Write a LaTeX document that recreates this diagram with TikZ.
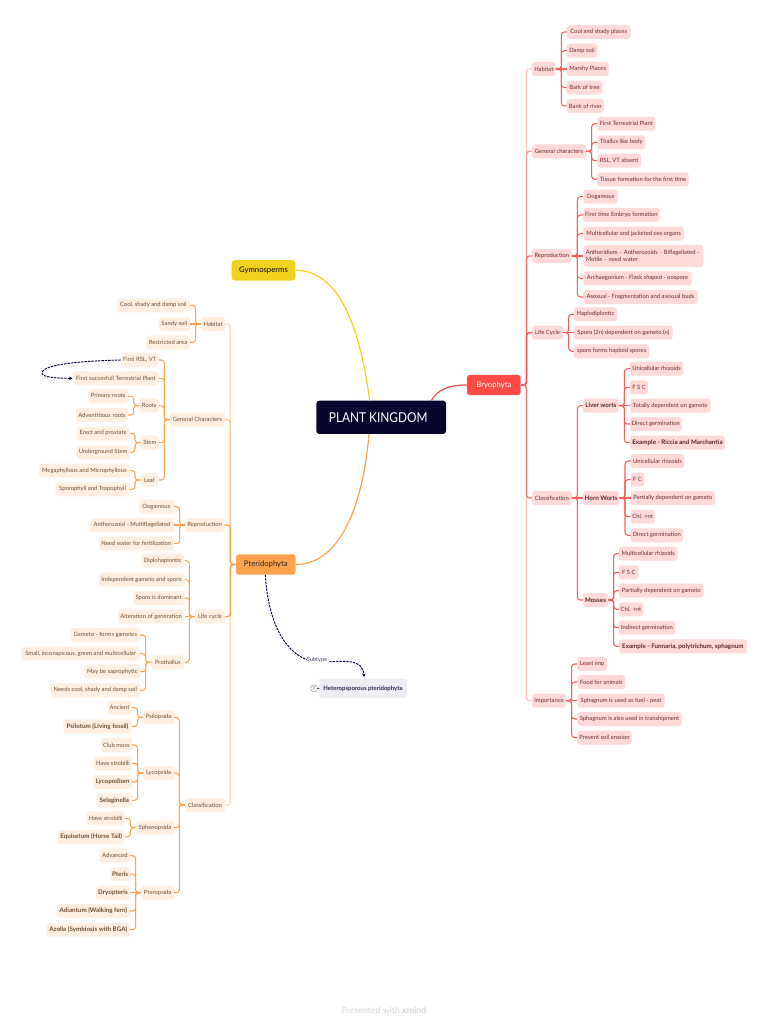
\documentclass[tikz,border=0pt]{standalone}
\usepackage{fontspec}
\setmainfont{Lato}
\usetikzlibrary{arrows.meta}
\definecolor{rfill}{HTML}{FFDAD8}\definecolor{rtext}{HTML}{6E2A2A}\definecolor{rline}{HTML}{FF5A54}
\definecolor{lfill}{HTML}{FFEFE1}\definecolor{ltext}{HTML}{6E4E30}\definecolor{lline}{HTML}{FFA24D}
\definecolor{ra}{HTML}{FFC6C3}\definecolor{rbb}{HTML}{FF9A96}\definecolor{rc}{HTML}{FF716B}\definecolor{rd}{HTML}{FF4B45}
\definecolor{la}{HTML}{FFDCBE}\definecolor{lb}{HTML}{FFC48F}\definecolor{lc}{HTML}{FFA24D}
\definecolor{navy}{HTML}{05052E}\definecolor{gymn}{HTML}{F2D21E}\definecolor{hetfill}{HTML}{EEEDF2}
\tikzset{
 base/.style={rectangle,rounded corners=3pt,inner sep=0pt,minimum height=14pt,font=\fontsize{5.85}{7.4}\selectfont},
 rn/.style={base,fill=rfill,text=rtext},
 rbd/.style={rn,font=\fontsize{6.25}{7.7}\selectfont\bfseries,text=rtext!85!black},
 ln/.style={base,fill=lfill,text=ltext},
 lbd/.style={ln,font=\fontsize{6.25}{7.7}\selectfont\bfseries},
 major/.style={rectangle,rounded corners=3pt,inner sep=0pt,minimum height=20.4pt,font=\fontsize{7.7}{10}\selectfont},
 rbranch/.style={draw=rline,line width=1.05pt,rounded corners=3pt},
 lbranch/.style={draw=lline,line width=1.05pt,rounded corners=3pt},
 spine/.style={line width=1.3pt,rounded corners=3pt},
 rel/.style={draw=navy!90!blue,line width=0.95pt,dash pattern=on 2.4pt off 1pt},
}
\newcommand\bxx[6]{%
 \pgfmathsetmacro\bxc{(#3+#4)/2}\pgfmathsetmacro\bxw{#4-#3}%
 \node[#1,minimum width=\bxw pt] (#2) at (\bxc,#5) {#6};}
\newcommand\rk[2]{\path[rbranch] (#1.east) -- ++(5.5,0) |- (#2.west);}
\newcommand\rs[2]{\path[rbranch] (#1.east) -- (#2.west);}
\newcommand\lk[2]{\path[lbranch] (#1.west) -- ++(-5.5,0) |- (#2.east);}
\newcommand\ls[2]{\path[lbranch] (#1.west) -- (#2.east);}
\newcommand\rsp[3]{\draw[spine,#1] (#2.east) -- ++(5.5,0) |- (#3.west);}
\newcommand\lsp[3]{\draw[spine,#1] (#2.west) -- ++(-5.5,0) |- (#3.east);}
\begin{document}
\begin{tikzpicture}[x=1pt,y=-1pt]
\useasboundingbox (0,0) rectangle (768,1024);
% centre and main topics
\node[rectangle,rounded corners=3pt,fill=navy,text=white,minimum width=129.7pt,minimum height=33.3pt,inner sep=0pt,font=\fontsize{13.6}{16}\selectfont] (root) at (381.2,417.3) {\hspace{-6pt}\scalebox{0.87}[1]{PLANT KINGDOM}};
\bxx{major,fill=rd,text=white}{bry}{467}{520.7}{385}{Bryophyta}
\bxx{major,fill=gymn,text=black}{gym}{231.7}{295.3}{270.3}{Gymnosperms}
\bxx{major,fill=lc,text=black!85}{pte}{236}{295.7}{564.5}{Pteridophyta}
% Bryophyta
\bxx{rn}{bhab}{532}{555.7}{69}{Habitat}
\bxx{rn}{b1}{566.7}{630.7}{32}{Cool and shady places}
\bxx{rn}{b2}{566.7}{597.3}{50.7}{Damp soil}
\bxx{rn}{b3}{566.7}{608.7}{69}{Marshy Places}
\bxx{rn}{b4}{566.7}{602.3}{87.7}{Bark of tree}
\bxx{rn}{b5}{566.7}{604}{106}{Bank of river}
\bxx{rn}{bgen}{532}{586}{151.3}{General characters}
\bxx{rn}{g1}{597.3}{655.3}{123.7}{First Terrestrial Plant}
\bxx{rn}{g2}{597.3}{645.3}{142.3}{Thallus like body}
\bxx{rn}{g3}{597.3}{641}{160.7}{RSL, VT absent}
\bxx{rn}{g4}{597.3}{688.7}{179.3}{Tissue formation for the first time}
\bxx{rn}{brep}{532}{571.7}{256}{Reproduction}
\bxx{rn}{p1}{583.3}{617.7}{196.7}{Oogamous}
\bxx{rn}{p2}{583.3}{659.3}{215}{First time Embryo formation}
\bxx{rn}{p3}{583.3}{684}{233.7}{Multicellular and jacketed sex organs}
\bxx{rn,minimum height=22.3pt,align=left,text width=115pt}{p4}{583.3}{703.3}{256}{\mbox{Antheridium - Antherozoids - Biflagellated -}\\Motile - need water}
\bxx{rn}{p5}{583.3}{691.7}{278.3}{Archaegonium - Flask shaped - oospore}
\bxx{rn}{p6}{583.3}{697.7}{297}{Asexual - Fragmentation and asexual buds}
\bxx{rn}{blif}{532}{563}{332.7}{Life Cycle}
\bxx{rn}{c1}{574}{617}{314.3}{Haplodiplontic}
\bxx{rn}{c2}{574}{672.7}{332.7}{Sporo (2n) dependent on gameto (n)}
\bxx{rn}{c3}{574}{649.3}{351.3}{sporo forms haploid spores}
\bxx{rn}{bcla}{532}{571.7}{498}{Classification}
\bxx{rbd}{liv}{583}{618.7}{405.7}{Liver worts}
\bxx{rn}{v1}{630}{683.3}{368.7}{Unicellular rhizoids}
\bxx{rn}{v2}{630}{648}{387.3}{F S C}
\bxx{rn}{v3}{630}{710.7}{405.7}{Totally dependent on gameto}
\bxx{rn}{v4}{630}{681.7}{424}{Direct germination}
\bxx{rbd}{v5}{630}{725}{442.7}{Example - Riccia and Marchantia}
\bxx{rbd}{hor}{583}{619.3}{498}{Horn Worts}
\bxx{rn}{h1}{630.7}{684.3}{461}{Unicellular rhizoids}
\bxx{rn}{h2}{630.7}{644.3}{479.7}{F C}
\bxx{rn}{h3}{630.7}{715}{498}{Partially dependent on gameto}
\bxx{rn}{h4}{630.7}{654.7}{516.7}{Chl. +nt}
\bxx{rn}{h5}{630.7}{683}{535.3}{Direct germination}
\bxx{rbd}{mos}{583}{608}{600}{Mosses}
\bxx{rn}{m1}{619}{677.7}{553.7}{Multicellular rhizoids}
\bxx{rn}{m2}{619}{638.7}{572.3}{F S C}
\bxx{rn}{m3}{619}{703.7}{590.7}{Partially dependent on gameto}
\bxx{rn}{m4}{619}{643}{609.3}{Chl. +nt}
\bxx{rn}{m5}{619}{675}{627.7}{Indirect germination}
\bxx{rbd}{m6}{619}{746.7}{646.3}{Example - Funnaria, polytrichum, sphagnum}
\bxx{rn}{bimp}{532}{566}{700.7}{Importance}
\bxx{rn}{i1}{577.3}{607}{664}{Least imp}
\bxx{rn}{i2}{577.3}{625.3}{682}{Food for animals}
\bxx{rn}{i3}{577.3}{664.7}{700.7}{Sphagnum is used as fuel - peat}
\bxx{rn}{i4}{577.3}{681.7}{719}{Sphagnum is also used in transhipment}
\bxx{rn}{i5}{577.3}{631.7}{737.7}{Prevent soil erosion}
% Pteridophyta
\bxx{ln}{lhab}{201.3}{225}{324}{Habitat}
\bxx{ln}{a1}{116.7}{190}{305.3}{Cool, shady and damp soil}
\bxx{ln}{a2}{158.7}{190}{324}{Sandy soil}
\bxx{ln}{a3}{146}{190}{342.3}{Restricted area}
\bxx{ln}{lgen}{170}{225}{419.7}{General Characters}
\bxx{ln}{r1}{121}{158.3}{360}{First RSL, VT}
\bxx{ln}{r2}{72.7}{159}{378.3}{First succesfull Terrestrial Plant}
\bxx{ln}{roo}{139.3}{159}{405.7}{Roots}
\bxx{ln}{r3}{88.3}{128}{396.3}{Primary roots}
\bxx{ln}{r4}{76}{128}{415}{Adventitious roots}
\bxx{ln}{ste}{140.7}{159}{442.7}{Stem}
\bxx{ln}{s1}{76.7}{129.7}{433.3}{Erect and prostate}
\bxx{ln}{s2}{76.7}{129.7}{452.3}{Underground Stem}
\bxx{ln}{lea}{140.7}{158.3}{480}{Leaf}
\bxx{ln}{e1}{39}{129.7}{470.7}{Megaphyllous and Microphyllous}
\bxx{ln}{e2}{55.3}{129.7}{489.3}{Sporophyll and Tropophyll}
\bxx{ln}{lrep}{185.3}{224}{525}{Reproduction}
\bxx{ln}{t1}{139}{173.7}{506.7}{Oogamous}
\bxx{ln}{t2}{90.3}{173.7}{525}{Antherozoid - Multiflagellated}
\bxx{ln}{t3}{99}{173.7}{543.7}{Need water for fertilization}
\bxx{ln}{llif}{195}{225}{616.7}{Life cycle}
\bxx{ln}{y1}{141.3}{184.3}{560.7}{Diplohaplontic}
\bxx{ln}{y2}{98.7}{184.3}{579.7}{Independent gameto and sporo}
\bxx{ln}{y3}{133}{184.3}{598}{Sporo is dominant}
\bxx{ln}{y4}{118}{184.3}{616.7}{Alteration of generation}
\bxx{ln}{pro}{151.3}{184.3}{662.3}{Prothallus}
\bxx{ln}{o1}{70.7}{140}{635}{Gameto - forms gametes}
\bxx{ln}{o2}{21.3}{140}{653.7}{Small, inconspicous, green and multicellular}
\bxx{ln}{o3}{84.7}{140}{671.7}{May be saprophytic}
\bxx{ln}{o4}{50.7}{140}{690.3}{Needs cool, shady and damp soil}
\bxx{ln}{lcla}{185}{225}{805}{Classification}
\bxx{ln}{psi}{143.3}{174}{717.3}{Psilopsida}
\bxx{ln}{q1}{107.3}{131.7}{707.7}{Ancient}
\bxx{lbd}{q2}{63.3}{131.7}{726.3}{Psilotum (Living fossil)}
\bxx{ln}{lyc}{143.3}{174}{773}{Lycopsida}
\bxx{ln}{w1}{100.7}{132}{745}{Club moss}
\bxx{ln}{w2}{94}{132}{763.3}{Have strobilli}
\bxx{lbd}{w3}{93.3}{132}{782}{Lycopodiom}
\bxx{lbd}{w4}{96.7}{132}{800.3}{Selaginella}
\bxx{ln}{sph}{136}{174}{827.7}{Sphenopsida}
\bxx{ln}{x1}{86.7}{124.7}{818.3}{Have strobilli}
\bxx{lbd}{x2}{57.7}{124.7}{837}{Equisetum (Horse Tail)}
\bxx{ln}{ptr}{141.3}{174}{892.7}{Pteropsida}
\bxx{ln}{z1}{99.7}{130}{855.7}{Advanced}
\bxx{lbd}{z2}{110.3}{130}{874}{Pteris}
\bxx{lbd}{z3}{96}{130}{892.7}{Dryopteris}
\bxx{lbd}{z4}{56.7}{130}{911}{Adiantum (Walking fern)}
\bxx{lbd}{z5}{46.7}{130}{929.7}{Azolla (Symbiosis with BGA)}
% floating topic
\node[rectangle,rounded corners=3pt,fill=hetfill,text=navy!85,minimum width=88pt,minimum height=19.4pt,inner sep=0pt,font=\fontsize{6}{7.7}\selectfont\bfseries] (het) at (363,688.3) {Heteropsporous pteridophyta};
\node[circle,draw=navy!80,densely dotted,line width=0.6pt,minimum size=7pt,inner sep=0pt,font=\fontsize{5}{5}\selectfont,text=navy!80] (ico) at (314,688.3) {?};
\draw[navy!80,line width=0.6pt] (ico) -- (het);
\node[inner sep=0pt,text=navy!80,font=\fontsize{5.6}{6}\selectfont] (sub) at (317,659.8) {Subtype};
% main curves
\coordinate (cg) at (369.7,401);
\coordinate (cb) at (431,401);
\coordinate (cp) at (369,434);
\draw[gymn,line width=1.2pt] (gym.east) .. controls (342,270.3) and (361,335) .. (cg);
\draw[rd,line width=1.2pt] (bry.west) .. controls (448,385) and (437,390) .. (cb);
\draw[lc,line width=1.2pt] (pte.east) .. controls (336,564.5) and (362,515) .. (cp);
% Bryophyta spine
\rsp{ra}{bry}{bhab}\rsp{ra}{bry}{bimp}\rsp{rbb}{bry}{bgen}\rsp{rc}{bry}{bcla}\rsp{rc}{bry}{brep}\rsp{rd}{bry}{blif}
\rk{bhab}{b1}\rk{bhab}{b2}\rs{bhab}{b3}\rk{bhab}{b4}\rk{bhab}{b5}
\rk{bgen}{g1}\rk{bgen}{g2}\rk{bgen}{g3}\rk{bgen}{g4}
\rk{brep}{p1}\rk{brep}{p2}\rk{brep}{p3}\rs{brep}{p4}\rk{brep}{p5}\rk{brep}{p6}
\rk{blif}{c1}\rs{blif}{c2}\rk{blif}{c3}
\rk{bcla}{liv}\rs{bcla}{hor}\rk{bcla}{mos}
\rk{liv}{v1}\rk{liv}{v2}\rs{liv}{v3}\rk{liv}{v4}\rk{liv}{v5}
\rk{hor}{h1}\rk{hor}{h2}\rs{hor}{h3}\rk{hor}{h4}\rk{hor}{h5}
\rk{mos}{m1}\rk{mos}{m2}\rk{mos}{m3}\rk{mos}{m4}\rk{mos}{m5}\rk{mos}{m6}
\rk{bimp}{i1}\rk{bimp}{i2}\rs{bimp}{i3}\rk{bimp}{i4}\rk{bimp}{i5}
% Pteridophyta spine
\lsp{la}{pte}{lhab}\lsp{la}{pte}{lcla}\lsp{lb}{pte}{lgen}\lsp{lc}{pte}{lrep}\lsp{lc}{pte}{llif}
\lk{lhab}{a1}\ls{lhab}{a2}\lk{lhab}{a3}
\lk{lgen}{r1}\lk{lgen}{r2}\lk{lgen}{roo}\lk{lgen}{ste}\lk{lgen}{lea}
\lk{roo}{r3}\lk{roo}{r4}\lk{ste}{s1}\lk{ste}{s2}\lk{lea}{e1}\lk{lea}{e2}
\lk{lrep}{t1}\ls{lrep}{t2}\lk{lrep}{t3}
\lk{llif}{y1}\lk{llif}{y2}\lk{llif}{y3}\ls{llif}{y4}\lk{llif}{pro}
\lk{pro}{o1}\lk{pro}{o2}\lk{pro}{o3}\lk{pro}{o4}
\lk{lcla}{psi}\lk{lcla}{lyc}\lk{lcla}{sph}\lk{lcla}{ptr}
\lk{psi}{q1}\lk{psi}{q2}
\lk{lyc}{w1}\lk{lyc}{w2}\lk{lyc}{w3}\lk{lyc}{w4}
\lk{sph}{x1}\lk{sph}{x2}
\lk{ptr}{z1}\lk{ptr}{z2}\ls{ptr}{z3}\lk{ptr}{z4}\lk{ptr}{z5}
% relationships
\draw[rel,-{Stealth[length=3.5pt,width=3.5pt]}] (r1.west) .. controls (62,361.5) and (42,367) .. (42,373) .. controls (42,377) and (55,378.3) .. (r2.west);
\draw[rel] ([xshift=-0.5pt]pte.south) .. controls (268,620) and (283,650) .. (sub.west);
\draw[rel,-{Stealth[length=3.5pt,width=3.5pt]}] ([shift={(2pt,-2pt)}]sub.east) .. controls (345,661) and (363,659) .. (364,677);
% footer
\node[inner sep=0pt,text=black!17,font=\fontsize{8.8}{10}\selectfont] (foot) at (384,1010) {Presented with \textbf{xmind}};
\end{tikzpicture}
\end{document}
